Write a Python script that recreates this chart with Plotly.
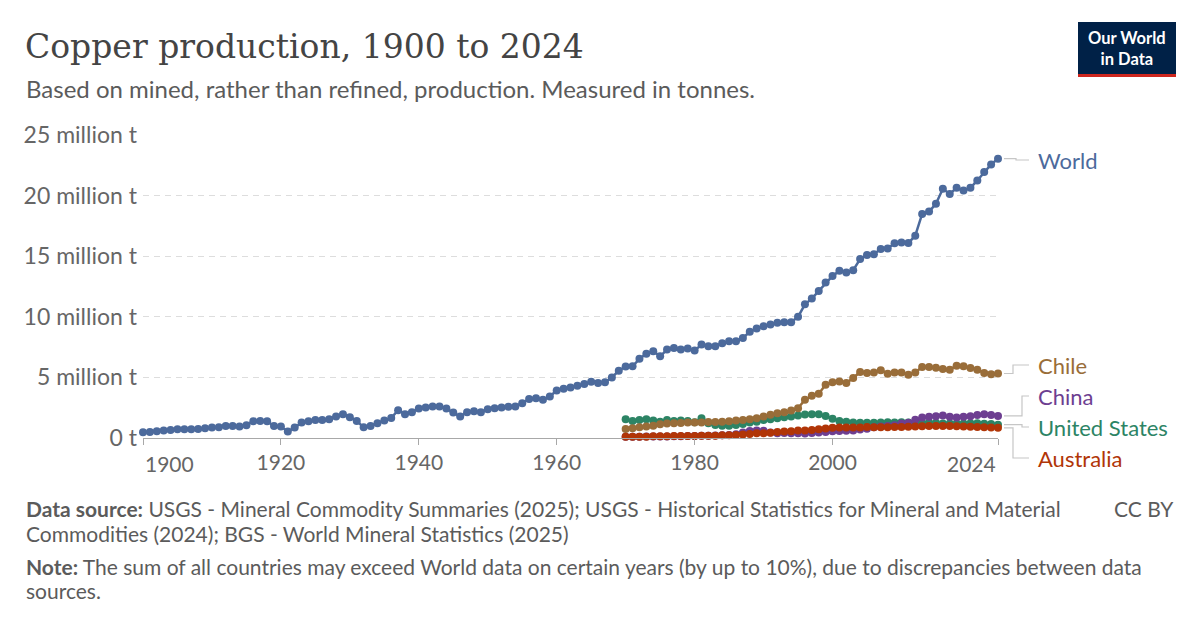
import plotly.graph_objects as go

# ---------------- data (million tonnes) ----------------
years_world = list(range(1900, 2025))
world_mt = [
    0.47, 0.50, 0.55, 0.61, 0.66, 0.72, 0.72, 0.72, 0.75, 0.80,
    0.86, 0.88, 0.99, 0.99, 0.94, 1.05, 1.38, 1.41, 1.38, 0.99,
    0.94, 0.53, 0.86, 1.27, 1.38, 1.49, 1.49, 1.55, 1.77, 1.96,
    1.71, 1.41, 0.88, 0.99, 1.22, 1.44, 1.66, 2.29, 1.96, 2.13,
    2.43, 2.51, 2.60, 2.60, 2.43, 2.10, 1.77, 2.13, 2.21, 2.13,
    2.38, 2.46, 2.51, 2.57, 2.60, 2.87, 3.21, 3.29, 3.15, 3.43,
    3.92, 4.06, 4.17, 4.31, 4.45, 4.64, 4.53, 4.59, 5.00, 5.55,
    5.90, 5.91, 6.53, 6.96, 7.16, 6.74, 7.30, 7.43, 7.30, 7.38,
    7.21, 7.71, 7.57, 7.57, 7.82, 7.98, 7.98, 8.26, 8.76, 9.04,
    9.23, 9.37, 9.51, 9.56, 9.56, 10.00, 11.03, 11.50, 12.13, 12.82,
    13.37, 13.79, 13.65, 13.84, 14.76, 15.09, 15.17, 15.59, 15.64, 16.06,
    16.14, 16.08, 16.69, 18.49, 18.68, 19.32, 20.56, 20.14, 20.64, 20.42,
    20.64, 21.25, 21.94, 22.57, 23.05,
]

years_countries = list(range(1970, 2025))
chile_mt = [
    0.75, 0.80, 0.88, 0.94, 1.02, 1.13, 1.19, 1.22, 1.24, 1.27,
    1.27, 1.27, 1.33, 1.33, 1.35, 1.38, 1.44, 1.49, 1.55, 1.63,
    1.77, 1.91, 2.05, 2.13, 2.26, 2.46, 3.15, 3.48, 3.65, 4.39,
    4.59, 4.67, 4.53, 4.95, 5.45, 5.36, 5.41, 5.58, 5.31, 5.41,
    5.41, 5.22, 5.41, 5.86, 5.86, 5.80, 5.69, 5.64, 5.97, 5.91,
    5.78, 5.64, 5.36, 5.25, 5.32,
]
china_mt = [
    0.10, 0.10, 0.11, 0.12, 0.12, 0.13, 0.13, 0.14, 0.15, 0.16,
    0.17, 0.18, 0.19, 0.20, 0.22, 0.25, 0.30, 0.45, 0.58, 0.62,
    0.60, 0.45, 0.40, 0.42, 0.40, 0.40, 0.38, 0.42, 0.45, 0.50,
    0.55, 0.58, 0.60, 0.62, 0.70, 0.76, 0.89, 0.95, 1.00, 1.05,
    1.20, 1.25, 1.50, 1.70, 1.75, 1.80, 1.85, 1.75, 1.70, 1.75,
    1.80, 1.90, 1.95, 1.90, 1.82,
]
us_mt = [
    1.55, 1.41, 1.49, 1.55, 1.44, 1.35, 1.49, 1.41, 1.44, 1.41,
    1.30, 1.63, 1.22, 1.08, 1.02, 1.02, 1.08, 1.16, 1.27, 1.35,
    1.49, 1.55, 1.63, 1.71, 1.77, 1.85, 1.93, 1.96, 1.96, 1.82,
    1.58, 1.41, 1.35, 1.27, 1.25, 1.25, 1.25, 1.27, 1.30, 1.27,
    1.30, 1.27, 1.27, 1.25, 1.25, 1.25, 1.20, 1.20, 1.20, 1.20,
    1.22, 1.22, 1.18, 1.15, 1.10,
]
australia_mt = [
    0.11, 0.11, 0.11, 0.11, 0.14, 0.14, 0.14, 0.17, 0.17, 0.17,
    0.17, 0.19, 0.19, 0.19, 0.22, 0.22, 0.25, 0.28, 0.33, 0.39,
    0.39, 0.44, 0.50, 0.53, 0.55, 0.61, 0.61, 0.66, 0.72, 0.78,
    0.85, 0.87, 0.87, 0.86, 0.87, 0.90, 0.88, 0.88, 0.88, 0.90,
    0.90, 0.93, 0.95, 0.97, 0.99, 0.99, 0.99, 0.98, 0.96, 0.94,
    0.92, 0.90, 0.89, 0.86, 0.84,
]

series_names = ["World", "United States", "China", "Chile", "Australia"]
series_colors = {
    "World": "#4C6A9C",
    "Chile": "#996D39",
    "China": "#6D3E91",
    "United States": "#2C8465",
    "Australia": "#B13507",
}

y_tickvals = [0, 5e6, 10e6, 15e6, 20e6, 25e6]
y_ticktext = ["0 t", "5 million t", "10 million t", "15 million t", "20 million t", "25 million t"]
x_tickvals = [1900, 1920, 1940, 1960, 1980, 2000, 2024]
x_ticktext = ["1900", "1920", "1940", "1960", "1980", "2000", "2024"]

title = "Copper production, 1900 to 2024"
subtitle = "Based on mined, rather than refined, production. Measured in tonnes."
logo_text = "<b>Our World<br>in Data</b>"
source_line1 = "<b>Data source:</b> USGS - Mineral Commodity Summaries (2025); USGS - Historical Statistics for Mineral and Material"
source_line2 = "Commodities (2024); BGS - World Mineral Statistics (2025)"
note_line1 = "<b>Note:</b> The sum of all countries may exceed World data on certain years (by up to 10%), due to discrepancies between data"
note_line2 = "sources."

# ---------------- layout geometry ----------------
W, H = 1200, 627
L, R = 143, 998          # plot area in px
T, B = 135, 438
Y_RANGE = [0, 25e6]
X_RANGE = [1900, 2024]
FONT = "Lato, 'Noto Sans', sans-serif"
GREY = "#5b5b5b"
AXIS_GREY = "#666666"


def px2x(px):
    return (px - L) / (R - L)


def px2y(py):
    return (B - py) / (B - T)


def val2y(v):
    return (v - Y_RANGE[0]) / (Y_RANGE[1] - Y_RANGE[0])


data = {
    "World": (years_world, world_mt),
    "Chile": (years_countries, chile_mt),
    "China": (years_countries, china_mt),
    "United States": (years_countries, us_mt),
    "Australia": (years_countries, australia_mt),
}

fig = go.Figure()
for name in series_names:
    xs, ys = data[name]
    fig.add_trace(go.Scatter(
        x=xs, y=[v * 1e6 for v in ys], mode="lines+markers", name=name,
        line=dict(color=series_colors[name], width=2.5),
        marker=dict(color=series_colors[name], size=8, line=dict(width=0)),
        cliponaxis=False, showlegend=False,
    ))

annotations = []
shapes = []

# Title / subtitle
annotations.append(dict(text=title, x=px2x(23), y=px2y(46), xref="paper", yref="paper",
                        xanchor="left", yanchor="middle", showarrow=False,
                        font=dict(family="'DejaVu Serif', serif", size=33, color="#444444")))
annotations.append(dict(text=subtitle, x=px2x(24), y=px2y(89), xref="paper", yref="paper",
                        xanchor="left", yanchor="middle", showarrow=False,
                        font=dict(family=FONT, size=24, color=GREY)))

# Logo
shapes.append(dict(type="rect", xref="paper", yref="paper", x0=px2x(1078), x1=px2x(1176),
                   y0=px2y(77), y1=px2y(22), fillcolor="#002147", line=dict(width=0), layer="above"))
shapes.append(dict(type="rect", xref="paper", yref="paper", x0=px2x(1078), x1=px2x(1176),
                   y0=px2y(77), y1=px2y(74), fillcolor="#CE261E", line=dict(width=0), layer="above"))
annotations.append(dict(text=logo_text, x=px2x(1127), y=px2y(48.5), xref="paper", yref="paper",
                        xanchor="center", yanchor="middle", showarrow=False, align="center",
                        font=dict(family=FONT, size=16.5, color="white")))

# X tick labels at the ends (aligned inward)
annotations.append(dict(text=x_ticktext[0], x=x_tickvals[0], xref="x", y=px2y(463), yref="paper",
                        xanchor="left", yanchor="middle", showarrow=False,
                        font=dict(family=FONT, size=21, color=AXIS_GREY)))
annotations.append(dict(text=x_ticktext[-1], x=x_tickvals[-1], xref="x", y=px2y(463), yref="paper",
                        xanchor="right", yanchor="middle", showarrow=False,
                        font=dict(family=FONT, size=21, color=AXIS_GREY)))

# Line labels + connectors
label_py = {"World": 160, "Chile": 365, "China": 396, "United States": 427, "Australia": 458}
elbow_px = {"World": 1016, "Chile": 1013, "China": 1022, "United States": 1022, "Australia": 1013}
x_start, x_end, x_text = 1004, 1029, 1036
for name in series_names:
    xs, ys = data[name]
    y0 = val2y(ys[-1] * 1e6)
    y1 = px2y(label_py[name])
    xm = px2x(elbow_px[name])
    path = f"M {px2x(x_start)},{y0} L {xm},{y0} L {xm},{y1} L {px2x(x_end)},{y1}"
    shapes.append(dict(type="path", xref="paper", yref="paper", path=path,
                       line=dict(color="#c6c6c6", width=1.2)))
    annotations.append(dict(text=name, x=px2x(x_text), y=y1, xref="paper", yref="paper",
                            xanchor="left", yanchor="middle", showarrow=False,
                            font=dict(family=FONT, size=22, color=series_colors[name])))

# Footer
for txt, py in [(source_line1, 508), (source_line2, 533), (note_line1, 566), (note_line2, 590)]:
    annotations.append(dict(text=txt, x=px2x(24), y=px2y(py), xref="paper", yref="paper",
                            xanchor="left", yanchor="middle", showarrow=False,
                            font=dict(family=FONT, size=21, color=GREY)))
annotations.append(dict(text="CC BY", x=px2x(1176), y=px2y(508), xref="paper", yref="paper",
                        xanchor="right", yanchor="middle", showarrow=False,
                        font=dict(family=FONT, size=21, color=GREY)))

fig.update_layout(
    width=W, height=H,
    margin=dict(l=L, r=W - R, t=T, b=H - B, autoexpand=False),
    paper_bgcolor="white", plot_bgcolor="white",
    font=dict(family=FONT, color=AXIS_GREY),
    annotations=annotations, shapes=shapes,
    xaxis=dict(
        range=X_RANGE, tickvals=x_tickvals,
        ticktext=[""] + x_ticktext[1:-1] + [""],
        showgrid=False, zeroline=False, showline=True, linecolor="#a8a8a8", linewidth=1,
        ticks="outside", ticklen=6, tickcolor="#a8a8a8",
        tickfont=dict(family=FONT, size=21, color=AXIS_GREY),
    ),
    yaxis=dict(
        range=Y_RANGE, tickvals=y_tickvals, ticktext=y_ticktext,
        showgrid=True, gridcolor="#dddddd", griddash="6px,5px", gridwidth=1,
        zeroline=False, showline=False, ticks="", ticklabelstandoff=5,
        tickfont=dict(family=FONT, size=23, color=AXIS_GREY),
    ),
)

fig.write_html("out.html", config={"displayModeBar": False})
